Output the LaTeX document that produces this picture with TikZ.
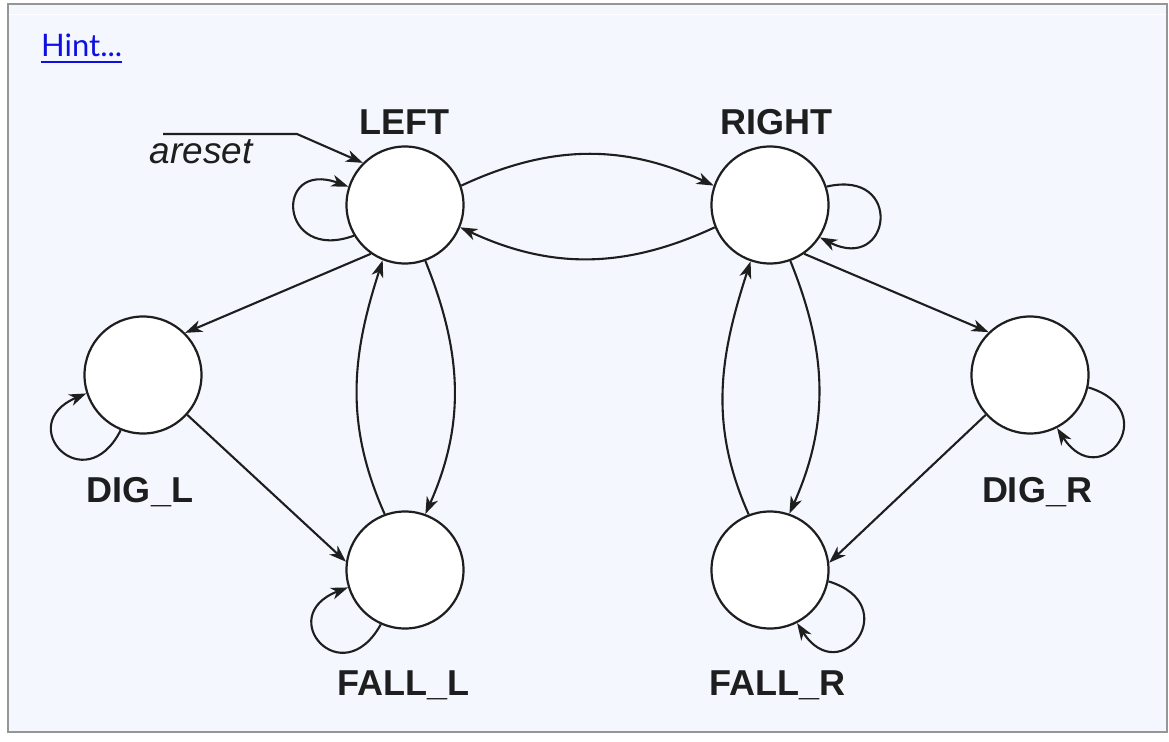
\documentclass[tikz,border=0pt]{standalone}
\usepackage{fontspec}
\setmainfont{Liberation Sans}
\newfontfamily\hintfont{Lato}
\usetikzlibrary{arrows.meta}
\definecolor{bgc}{RGB}{244,247,254}
\definecolor{framec}{RGB}{150,150,150}
\definecolor{ink}{RGB}{30,30,30}
\definecolor{linkc}{RGB}{15,15,225}
\begin{document}
\begin{tikzpicture}[x=1pt,y=1pt,
  state/.style={circle,draw=ink,fill=white,line width=2.2pt,minimum size=117pt,inner sep=0pt},
  lbl/.style={font=\bfseries\fontsize{36}{40}\selectfont,text=ink,inner sep=0pt,anchor=base},
  edge/.style={draw=ink,line width=2.1pt,-{Stealth[length=17pt,width=12pt,inset=5pt]}},
  loopdist/.style={distance=80pt}
]
\useasboundingbox (0,0) rectangle (1169,-741);
\fill[white] (0,0) rectangle (1169,-741);
\draw[framec,fill=bgc,line width=2pt] (8,-4) rectangle (1167,-732);
\draw[white,line width=1pt] (9,-15) -- (1166,-15);

% link
\node[anchor=base west,inner sep=0pt,text=linkc,font=\hintfont\fontsize{31}{34}\selectfont] (hint) at (41,-57) {Hint...};
\draw[linkc,line width=2pt] ([yshift=-5pt]hint.base west) -- ([yshift=-5pt]hint.base east);

% states
\node[state] (LEFT) at (405,-205) {};
\node[state] (RIGHT) at (770,-205) {};
\node[state] (DIGL) at (143,-375) {};
\node[state] (DIGR) at (1030,-375) {};
\node[state] (FALLL) at (405,-570) {};
\node[state] (FALLR) at (770,-570) {};

% labels
\node[lbl] (tLEFT) at (404,-135) {LEFT};
\node[lbl] (tRIGHT) at (776,-135) {RIGHT};
\node[lbl] (tDIGL) at (140,-502) {DIG\_L};
\node[lbl] (tDIGR) at (1037,-502) {DIG\_R};
\node[lbl] (tFALLL) at (403,-695) {FALL\_L};
\node[lbl] (tFALLR) at (777,-695) {FALL\_R};

% reset
\node[anchor=base,inner sep=0pt,text=ink,font=\itshape\fontsize{37}{40}\selectfont] (areset) at (201,-163) {areset};
\coordinate (ar0) at (163,-134);
\coordinate (ar1) at (297,-134);
\draw[edge] (ar0) -- (ar1) -- (LEFT.135);

% top arcs
\draw[edge] (LEFT.19) to[out=25,in=155] (RIGHT.161);
\draw[edge] (RIGHT.202) to[out=-155,in=-25] (LEFT.-22);

% self loops
\draw[edge] (LEFT.211) to[out=200,in=160,loopdist] (LEFT.162);
\draw[edge] (RIGHT.18) to[out=13,in=-27,loopdist] (RIGHT.-33);
\draw[edge] (DIGL.248) to[out=243,in=203,loopdist] (DIGL.198);
\draw[edge] (DIGR.-12) to[out=-17,in=-57,loopdist] (DIGR.-63);
\draw[edge] (FALLL.246) to[out=241,in=201,loopdist] (FALLL.197);
\draw[edge] (FALLR.-11) to[out=-17,in=-57,loopdist] (FALLR.-63);

% straight edges
\draw[edge] (LEFT.235) -- (DIGL.45);
\draw[edge] (DIGL.318) -- (FALLL.172);
\draw[edge] (RIGHT.305) -- (DIGR.134);
\draw[edge] (DIGR.222) -- (FALLR.7);

% vertical pairs
\draw[edge] (FALLL.110) to[out=114,in=252] (LEFT.248);
\draw[edge] (LEFT.290) to[out=-68,in=66] (FALLL.70);
\draw[edge] (FALLR.111) to[out=114,in=252] (RIGHT.251);
\draw[edge] (RIGHT.290) to[out=-68,in=66] (FALLR.71);
\end{tikzpicture}
\end{document}
